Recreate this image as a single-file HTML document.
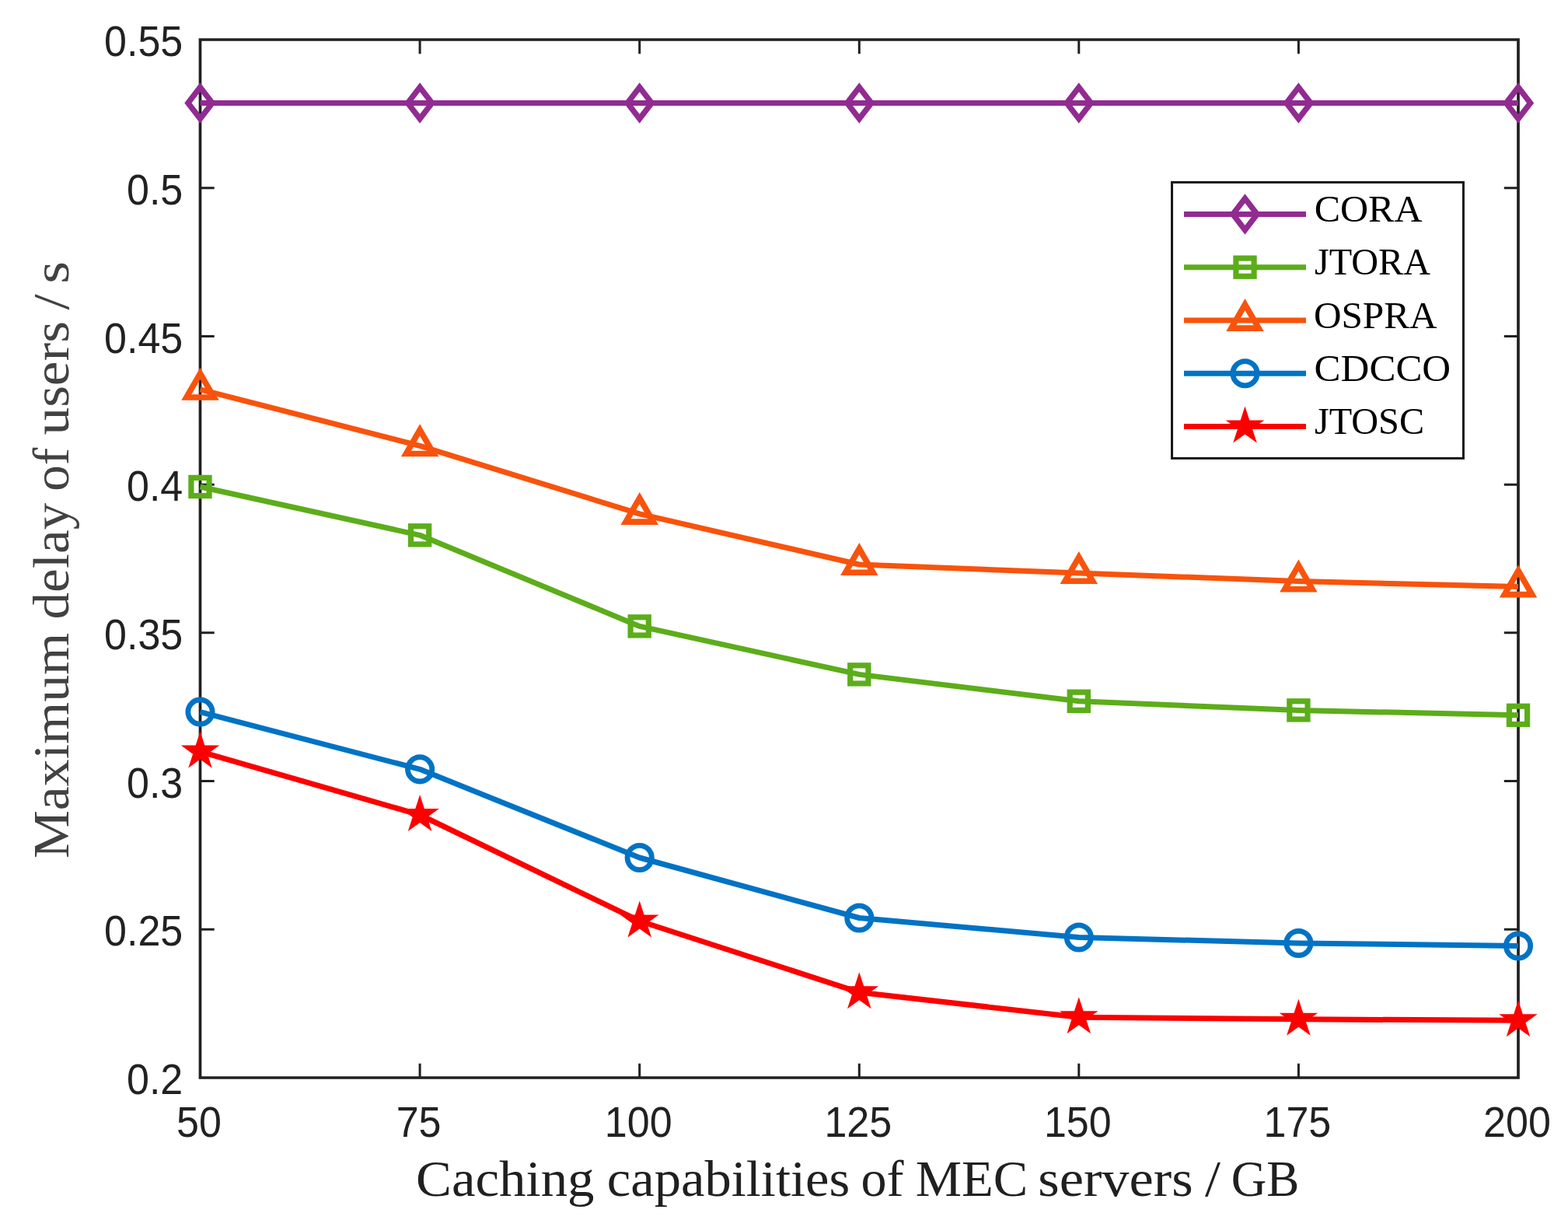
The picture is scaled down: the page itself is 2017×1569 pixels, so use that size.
<!DOCTYPE html><html><head><meta charset="utf-8"><title>Maximum delay vs caching capability</title><style>html,body{margin:0;padding:0;background:#fff;overflow:hidden;width:2017px;height:1569px}svg{display:block}</style></head><body>
<svg width="2017" height="1569" viewBox="0 0 2017 1569">
<rect x="0" y="0" width="2017" height="1569" fill="#fff"/>
<path d="M540.1 1386V1367.8 M540.1 51V69.2 M822.7 1386V1367.8 M822.7 51V69.2 M1105.3 1386V1367.8 M1105.3 51V69.2 M1387.8 1386V1367.8 M1387.8 51V69.2 M1670.4 1386V1367.8 M1670.4 51V69.2 M257.5 1195.29H275.7 M1953 1195.29H1934.8 M257.5 1004.57H275.7 M1953 1004.57H1934.8 M257.5 813.86H275.7 M1953 813.86H1934.8 M257.5 623.14H275.7 M1953 623.14H1934.8 M257.5 432.43H275.7 M1953 432.43H1934.8 M257.5 241.71H275.7 M1953 241.71H1934.8" fill="none" stroke="#202020" stroke-width="3" stroke-linecap="butt"/>
<path d="M257.5 51H1953V1386H257.5Z" fill="none" stroke="#202020" stroke-width="3.7" stroke-linecap="square" stroke-linejoin="miter"/>
<g font-family="'Liberation Sans', Arial, sans-serif" font-size="54.8" fill="#212121">
<text x="256" y="1461.5" text-anchor="middle" textLength="57.84" lengthAdjust="spacingAndGlyphs">50</text>
<text x="538.6" y="1461.5" text-anchor="middle" textLength="57.84" lengthAdjust="spacingAndGlyphs">75</text>
<text x="821.2" y="1461.5" text-anchor="middle" textLength="86.76" lengthAdjust="spacingAndGlyphs">100</text>
<text x="1103.8" y="1461.5" text-anchor="middle" textLength="86.76" lengthAdjust="spacingAndGlyphs">125</text>
<text x="1386.3" y="1461.5" text-anchor="middle" textLength="86.76" lengthAdjust="spacingAndGlyphs">150</text>
<text x="1668.9" y="1461.5" text-anchor="middle" textLength="86.76" lengthAdjust="spacingAndGlyphs">175</text>
<text x="1951.5" y="1461.5" text-anchor="middle" textLength="86.76" lengthAdjust="spacingAndGlyphs">200</text>
<text x="235.3" y="1407.2" text-anchor="end" textLength="72.29" lengthAdjust="spacingAndGlyphs">0.2</text>
<text x="235.3" y="1216.49" text-anchor="end" textLength="101.21" lengthAdjust="spacingAndGlyphs">0.25</text>
<text x="235.3" y="1025.77" text-anchor="end" textLength="72.29" lengthAdjust="spacingAndGlyphs">0.3</text>
<text x="235.3" y="835.06" text-anchor="end" textLength="101.21" lengthAdjust="spacingAndGlyphs">0.35</text>
<text x="235.3" y="644.34" text-anchor="end" textLength="72.29" lengthAdjust="spacingAndGlyphs">0.4</text>
<text x="235.3" y="453.63" text-anchor="end" textLength="101.21" lengthAdjust="spacingAndGlyphs">0.45</text>
<text x="235.3" y="262.91" text-anchor="end" textLength="72.29" lengthAdjust="spacingAndGlyphs">0.5</text>
<text x="235.3" y="72.2" text-anchor="end" textLength="101.21" lengthAdjust="spacingAndGlyphs">0.55</text>
</g>
<polyline points="257.5,132.4 540.1,132.4 822.7,132.4 1105.3,132.4 1387.8,132.4 1670.4,132.4 1953,132.4" fill="none" stroke="#912B91" stroke-width="7" stroke-linejoin="round"/>
<polygon points="257.5,112.15 273.1,132.4 257.5,152.65 241.9,132.4" fill="none" stroke="#912B91" stroke-width="7.3" stroke-linejoin="miter"/>
<polygon points="540.1,112.15 555.7,132.4 540.1,152.65 524.5,132.4" fill="none" stroke="#912B91" stroke-width="7.3" stroke-linejoin="miter"/>
<polygon points="822.7,112.15 838.3,132.4 822.7,152.65 807.1,132.4" fill="none" stroke="#912B91" stroke-width="7.3" stroke-linejoin="miter"/>
<polygon points="1105.3,112.15 1120.9,132.4 1105.3,152.65 1089.7,132.4" fill="none" stroke="#912B91" stroke-width="7.3" stroke-linejoin="miter"/>
<polygon points="1387.8,112.15 1403.4,132.4 1387.8,152.65 1372.2,132.4" fill="none" stroke="#912B91" stroke-width="7.3" stroke-linejoin="miter"/>
<polygon points="1670.4,112.15 1686,132.4 1670.4,152.65 1654.8,132.4" fill="none" stroke="#912B91" stroke-width="7.3" stroke-linejoin="miter"/>
<polygon points="1953,112.15 1968.6,132.4 1953,152.65 1937.4,132.4" fill="none" stroke="#912B91" stroke-width="7.3" stroke-linejoin="miter"/>
<polyline points="257.5,626 540.1,688.35 822.7,805.4 1105.3,867.4 1387.8,901.8 1670.4,913.4 1953,919.85" fill="none" stroke="#5CAD1A" stroke-width="7" stroke-linejoin="round"/>
<rect x="245.9" y="614.4" width="23.2" height="23.2" fill="none" stroke="#5CAD1A" stroke-width="7.2"/>
<rect x="528.5" y="676.75" width="23.2" height="23.2" fill="none" stroke="#5CAD1A" stroke-width="7.2"/>
<rect x="811.1" y="793.8" width="23.2" height="23.2" fill="none" stroke="#5CAD1A" stroke-width="7.2"/>
<rect x="1093.7" y="855.8" width="23.2" height="23.2" fill="none" stroke="#5CAD1A" stroke-width="7.2"/>
<rect x="1376.2" y="890.2" width="23.2" height="23.2" fill="none" stroke="#5CAD1A" stroke-width="7.2"/>
<rect x="1658.8" y="901.8" width="23.2" height="23.2" fill="none" stroke="#5CAD1A" stroke-width="7.2"/>
<rect x="1941.4" y="908.25" width="23.2" height="23.2" fill="none" stroke="#5CAD1A" stroke-width="7.2"/>
<polyline points="257.5,500.8 540.1,573.3 822.7,660.9 1105.3,726 1387.8,737 1670.4,747.5 1953,754.4" fill="none" stroke="#F8530C" stroke-width="7" stroke-linejoin="round"/>
<polygon points="257.5,480.4 275.17,511 239.83,511" fill="none" stroke="#F8530C" stroke-width="7.6" stroke-linejoin="miter"/>
<polygon points="540.1,552.9 557.77,583.5 522.43,583.5" fill="none" stroke="#F8530C" stroke-width="7.6" stroke-linejoin="miter"/>
<polygon points="822.7,640.5 840.37,671.1 805.03,671.1" fill="none" stroke="#F8530C" stroke-width="7.6" stroke-linejoin="miter"/>
<polygon points="1105.3,705.6 1122.97,736.2 1087.63,736.2" fill="none" stroke="#F8530C" stroke-width="7.6" stroke-linejoin="miter"/>
<polygon points="1387.8,716.6 1405.47,747.2 1370.13,747.2" fill="none" stroke="#F8530C" stroke-width="7.6" stroke-linejoin="miter"/>
<polygon points="1670.4,727.1 1688.07,757.7 1652.73,757.7" fill="none" stroke="#F8530C" stroke-width="7.6" stroke-linejoin="miter"/>
<polygon points="1953,734 1970.67,764.6 1935.33,764.6" fill="none" stroke="#F8530C" stroke-width="7.6" stroke-linejoin="miter"/>
<polyline points="257.5,915.6 540.1,989.35 822.7,1103 1105.3,1180.5 1387.8,1205.5 1670.4,1213 1953,1216.5" fill="none" stroke="#0073C5" stroke-width="7" stroke-linejoin="round"/>
<circle cx="257.5" cy="915.6" r="15.65" fill="none" stroke="#0073C5" stroke-width="6.8"/>
<circle cx="540.1" cy="989.35" r="15.65" fill="none" stroke="#0073C5" stroke-width="6.8"/>
<circle cx="822.7" cy="1103" r="15.65" fill="none" stroke="#0073C5" stroke-width="6.8"/>
<circle cx="1105.3" cy="1180.5" r="15.65" fill="none" stroke="#0073C5" stroke-width="6.8"/>
<circle cx="1387.8" cy="1205.5" r="15.65" fill="none" stroke="#0073C5" stroke-width="6.8"/>
<circle cx="1670.4" cy="1213" r="15.65" fill="none" stroke="#0073C5" stroke-width="6.8"/>
<circle cx="1953" cy="1216.5" r="15.65" fill="none" stroke="#0073C5" stroke-width="6.8"/>
<polyline points="257.5,966.6 540.1,1048 822.7,1184.5 1105.3,1276.3 1387.8,1308.2 1670.4,1310.8 1953,1312.3" fill="none" stroke="#FC0000" stroke-width="7" stroke-linejoin="round"/>
<polygon points="257.5,940.6 263.34,958.56 282.23,958.57 266.95,969.67 272.78,987.63 257.5,976.53 242.22,987.63 248.05,969.67 232.77,958.57 251.66,958.56" fill="#FC0000" stroke="none"/>
<polygon points="540.1,1022 545.94,1039.96 564.83,1039.97 549.55,1051.07 555.38,1069.03 540.1,1057.93 524.82,1069.03 530.65,1051.07 515.37,1039.97 534.26,1039.96" fill="#FC0000" stroke="none"/>
<polygon points="822.7,1158.5 828.54,1176.46 847.43,1176.47 832.15,1187.57 837.98,1205.53 822.7,1194.43 807.42,1205.53 813.25,1187.57 797.97,1176.47 816.86,1176.46" fill="#FC0000" stroke="none"/>
<polygon points="1105.3,1250.3 1111.14,1268.26 1130.03,1268.27 1114.75,1279.37 1120.58,1297.33 1105.3,1286.23 1090.02,1297.33 1095.85,1279.37 1080.57,1268.27 1099.46,1268.26" fill="#FC0000" stroke="none"/>
<polygon points="1387.8,1282.2 1393.64,1300.16 1412.53,1300.17 1397.25,1311.27 1403.08,1329.23 1387.8,1318.13 1372.52,1329.23 1378.35,1311.27 1363.07,1300.17 1381.96,1300.16" fill="#FC0000" stroke="none"/>
<polygon points="1670.4,1284.8 1676.24,1302.76 1695.13,1302.77 1679.85,1313.87 1685.68,1331.83 1670.4,1320.73 1655.12,1331.83 1660.95,1313.87 1645.67,1302.77 1664.56,1302.76" fill="#FC0000" stroke="none"/>
<polygon points="1953,1286.3 1958.84,1304.26 1977.73,1304.27 1962.45,1315.37 1968.28,1333.33 1953,1322.23 1937.72,1333.33 1943.55,1315.37 1928.27,1304.27 1947.16,1304.26" fill="#FC0000" stroke="none"/>
<rect x="1507.55" y="234.45" width="374.9" height="354.95" fill="#fff" stroke="#161616" stroke-width="3"/>
<line x1="1523" y1="275.45" x2="1680" y2="275.45" stroke="#912B91" stroke-width="7"/>
<polygon points="1601.5,255.2 1617.1,275.45 1601.5,295.7 1585.9,275.45" fill="none" stroke="#912B91" stroke-width="7.3" stroke-linejoin="miter"/>
<g font-family="'Liberation Serif', 'Times New Roman', serif" font-size="49.2" fill="#000"><text x="1690.67" y="285" textLength="138.92" lengthAdjust="spacingAndGlyphs">CORA</text></g>
<line x1="1523" y1="343.7" x2="1680" y2="343.7" stroke="#5CAD1A" stroke-width="7"/>
<rect x="1589.9" y="332.1" width="23.2" height="23.2" fill="none" stroke="#5CAD1A" stroke-width="7.2"/>
<g font-family="'Liberation Serif', 'Times New Roman', serif" font-size="49.2" fill="#000"><text x="1690.92" y="353.35" textLength="149.03" lengthAdjust="spacingAndGlyphs">JTORA</text></g>
<line x1="1523" y1="411.95" x2="1680" y2="411.95" stroke="#F8530C" stroke-width="7"/>
<polygon points="1601.5,391.55 1619.17,422.15 1583.83,422.15" fill="none" stroke="#F8530C" stroke-width="7.6" stroke-linejoin="miter"/>
<g font-family="'Liberation Serif', 'Times New Roman', serif" font-size="49.2" fill="#000"><text x="1689.9" y="421.7" textLength="158.77" lengthAdjust="spacingAndGlyphs">OSPRA</text></g>
<line x1="1523" y1="480.2" x2="1680" y2="480.2" stroke="#0073C5" stroke-width="7"/>
<circle cx="1601.5" cy="480.2" r="15.65" fill="none" stroke="#0073C5" stroke-width="6.8"/>
<g font-family="'Liberation Serif', 'Times New Roman', serif" font-size="49.2" fill="#000"><text x="1690.63" y="490.05" textLength="175.53" lengthAdjust="spacingAndGlyphs">CDCCO</text></g>
<line x1="1523" y1="548.45" x2="1680" y2="548.45" stroke="#FC0000" stroke-width="7"/>
<polygon points="1601.5,522.45 1607.34,540.41 1626.23,540.42 1610.95,551.52 1616.78,569.48 1601.5,558.38 1586.22,569.48 1592.05,551.52 1576.77,540.42 1595.66,540.41" fill="#FC0000" stroke="none"/>
<g font-family="'Liberation Serif', 'Times New Roman', serif" font-size="49.2" fill="#000"><text x="1690.92" y="558.4" textLength="141.21" lengthAdjust="spacingAndGlyphs">JTOSC</text></g>
<g font-family="'Liberation Serif', 'Times New Roman', serif" font-size="64.5" fill="#202020"><text x="535" y="1537.7" textLength="229.52" lengthAdjust="spacingAndGlyphs">Caching</text><text x="780.77" y="1537.7" textLength="312.42" lengthAdjust="spacingAndGlyphs">capabilities</text><text x="1107.45" y="1537.7" textLength="54.97" lengthAdjust="spacingAndGlyphs">of</text><text x="1177.73" y="1537.7" textLength="144.48" lengthAdjust="spacingAndGlyphs">MEC</text><text x="1335.22" y="1537.7" textLength="199.49" lengthAdjust="spacingAndGlyphs">servers</text><text x="1550" y="1537.7" textLength="19.91" lengthAdjust="spacingAndGlyphs">/</text><text x="1583.87" y="1537.7" textLength="87.56" lengthAdjust="spacingAndGlyphs">GB</text></g>
<g transform="translate(88.2 0) rotate(-90)" font-family="'Liberation Serif', 'Times New Roman', serif" font-size="66" fill="#424242"><text x="-1104.11" y="0" textLength="290.37" lengthAdjust="spacingAndGlyphs">Maximum</text><text x="-796.6" y="0" textLength="149.83" lengthAdjust="spacingAndGlyphs">delay</text><text x="-631.86" y="0" textLength="56.04" lengthAdjust="spacingAndGlyphs">of</text><text x="-559.48" y="0" textLength="146.34" lengthAdjust="spacingAndGlyphs">users</text><text x="-398.6" y="0" textLength="20.18" lengthAdjust="spacingAndGlyphs">/</text><text x="-364.76" y="0" textLength="28.77" lengthAdjust="spacingAndGlyphs">s</text></g>
</svg></body></html>
